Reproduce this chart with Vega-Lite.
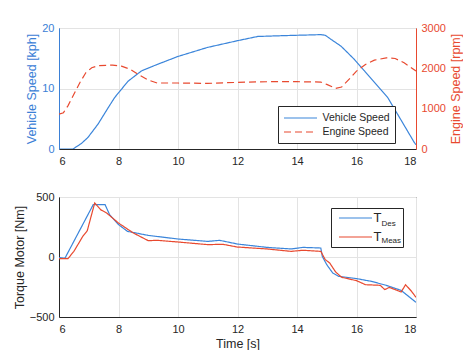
{
  "$schema": "https://vega.github.io/schema/vega-lite/v6.json",
  "padding": {"left": 12, "top": 21, "right": 0, "bottom": 0},
  "background": "white",
  "spacing": 48,
  "bounds": "flush",
  "resolve": {"scale": {"color": "independent", "strokeDash": "independent"}, "legend": {"color": "independent", "strokeDash": "independent"}},
  "config": {
    "font": "Liberation Sans",
    "view": {"stroke": "#262626", "strokeWidth": 1},
    "axis": {"labelFontSize": 11, "titleFontSize": 12.5, "titleFontWeight": "normal", "gridColor": "#e3e3e3", "labelColor": "#262626", "titleColor": "#262626", "domainColor": "#262626", "ticks": false, "labelPadding": 5, "titlePadding": 3},
    "axisX": {"labelPadding": 6, "titlePadding": 3},
    "legend": {"symbolType": "M-2.75,0H2.75", "symbolSize": 144, "symbolStrokeWidth": 1.2, "labelColor": "#262626"}
  },
  "vconcat": [
    {
      "width": 357,
      "height": 121,
      "layer": [
        {
          "data": {"values": [
            {"t": 6.0, "series": "Vehicle Speed", "v": 0},
            {"t": 6.47, "series": "Vehicle Speed", "v": 0},
            {"t": 6.75, "series": "Vehicle Speed", "v": 0.9},
            {"t": 6.97, "series": "Vehicle Speed", "v": 1.9},
            {"t": 7.31, "series": "Vehicle Speed", "v": 4.1},
            {"t": 7.65, "series": "Vehicle Speed", "v": 6.8},
            {"t": 7.87, "series": "Vehicle Speed", "v": 8.5},
            {"t": 8.32, "series": "Vehicle Speed", "v": 11.2},
            {"t": 8.77, "series": "Vehicle Speed", "v": 12.9},
            {"t": 9.21, "series": "Vehicle Speed", "v": 13.8},
            {"t": 10.0, "series": "Vehicle Speed", "v": 15.3},
            {"t": 11.0, "series": "Vehicle Speed", "v": 16.8},
            {"t": 12.0, "series": "Vehicle Speed", "v": 17.9},
            {"t": 12.68, "series": "Vehicle Speed", "v": 18.6},
            {"t": 13.3, "series": "Vehicle Speed", "v": 18.7},
            {"t": 14.0, "series": "Vehicle Speed", "v": 18.8},
            {"t": 14.8, "series": "Vehicle Speed", "v": 18.9},
            {"t": 14.95, "series": "Vehicle Speed", "v": 18.8},
            {"t": 15.15, "series": "Vehicle Speed", "v": 18.1},
            {"t": 15.48, "series": "Vehicle Speed", "v": 17.0},
            {"t": 15.93, "series": "Vehicle Speed", "v": 14.8},
            {"t": 16.27, "series": "Vehicle Speed", "v": 12.9},
            {"t": 17.05, "series": "Vehicle Speed", "v": 8.5},
            {"t": 17.94, "series": "Vehicle Speed", "v": 1.1},
            {"t": 18.0, "series": "Vehicle Speed", "v": 0.7}
          ]},
          "mark": {"type": "line", "strokeWidth": 1.2, "clip": true},
          "encoding": {
            "x": {"field": "t", "type": "quantitative", "scale": {"domain": [6, 18], "nice": false}, "axis": {"values": [6, 8, 10, 12, 14, 16, 18], "title": null, "grid": true}},
            "y": {"field": "v", "type": "quantitative", "scale": {"domain": [0, 20], "nice": false}, "axis": {"values": [0, 10, 20], "title": "Vehicle Speed [kph]", "labelColor": "#3b80d6", "titleColor": "#3b80d6", "domainColor": "#3b80d6", "grid": true}},
            "color": {"field": "series", "type": "nominal", "scale": {"domain": ["Vehicle Speed", "Engine Speed"], "range": ["#3b85da", "#e8492f"]}, "legend": {"title": null, "orient": "none", "legendX": 219, "legendY": 78, "strokeColor": "#262626", "fillColor": "white", "padding": 5, "symbolOffset": 10.5, "labelOffset": 15, "labelFontSize": 10.5, "rowPadding": 1, "cornerRadius": 0}},
            "strokeDash": {"field": "series", "type": "nominal", "scale": {"domain": ["Vehicle Speed", "Engine Speed"], "range": [[1, 0], [7, 4]]}, "legend": {"title": null, "orient": "none", "legendX": 219, "legendY": 78}}
          }
        },
        {
          "data": {"values": [
            {"t": 6.0, "series": "Engine Speed", "rpm": 863},
            {"t": 6.15, "series": "Engine Speed", "rpm": 900},
            {"t": 6.3, "series": "Engine Speed", "rpm": 1070},
            {"t": 6.5, "series": "Engine Speed", "rpm": 1356},
            {"t": 6.7, "series": "Engine Speed", "rpm": 1644},
            {"t": 6.9, "series": "Engine Speed", "rpm": 1890},
            {"t": 7.1, "series": "Engine Speed", "rpm": 2014},
            {"t": 7.3, "series": "Engine Speed", "rpm": 2063},
            {"t": 7.8, "series": "Engine Speed", "rpm": 2080},
            {"t": 8.1, "series": "Engine Speed", "rpm": 2055},
            {"t": 8.4, "series": "Engine Speed", "rpm": 1973},
            {"t": 8.7, "series": "Engine Speed", "rpm": 1833},
            {"t": 9.0, "series": "Engine Speed", "rpm": 1710},
            {"t": 9.3, "series": "Engine Speed", "rpm": 1636},
            {"t": 10.0, "series": "Engine Speed", "rpm": 1636},
            {"t": 11.0, "series": "Engine Speed", "rpm": 1627},
            {"t": 12.0, "series": "Engine Speed", "rpm": 1652},
            {"t": 13.0, "series": "Engine Speed", "rpm": 1668},
            {"t": 14.0, "series": "Engine Speed", "rpm": 1668},
            {"t": 14.8, "series": "Engine Speed", "rpm": 1660},
            {"t": 15.0, "series": "Engine Speed", "rpm": 1603},
            {"t": 15.3, "series": "Engine Speed", "rpm": 1504},
            {"t": 15.5, "series": "Engine Speed", "rpm": 1537},
            {"t": 15.8, "series": "Engine Speed", "rpm": 1767},
            {"t": 16.0, "series": "Engine Speed", "rpm": 1932},
            {"t": 16.3, "series": "Engine Speed", "rpm": 2096},
            {"t": 16.6, "series": "Engine Speed", "rpm": 2203},
            {"t": 17.0, "series": "Engine Speed", "rpm": 2260},
            {"t": 17.3, "series": "Engine Speed", "rpm": 2244},
            {"t": 17.6, "series": "Engine Speed", "rpm": 2137},
            {"t": 17.8, "series": "Engine Speed", "rpm": 2038},
            {"t": 18.0, "series": "Engine Speed", "rpm": 1932}
          ]},
          "mark": {"type": "line", "strokeWidth": 1.2, "clip": true},
          "encoding": {
            "x": {"field": "t", "type": "quantitative"},
            "y": {"field": "rpm", "type": "quantitative", "scale": {"domain": [0, 3000], "nice": false}, "axis": {"orient": "right", "values": [0, 1000, 2000, 3000], "format": "d", "title": "Engine Speed [rpm]", "titleAngle": 270, "titleBaseline": "top", "titlePadding": 4, "labelColor": "#e8492f", "titleColor": "#e8492f", "domainColor": "#e8492f", "grid": false}},
            "color": {"field": "series", "type": "nominal"},
            "strokeDash": {"field": "series", "type": "nominal"}
          }
        }
      ],
      "resolve": {"scale": {"y": "independent"}}
    },
    {
      "width": 357,
      "height": 120,
      "data": {"values": [
        {"t": 6.0, "series": "T_Des", "sub": "Des", "tq": -5},
        {"t": 6.2, "series": "T_Des", "sub": "Des", "tq": -10},
        {"t": 7.15, "series": "T_Des", "sub": "Des", "tq": 436},
        {"t": 7.55, "series": "T_Des", "sub": "Des", "tq": 436},
        {"t": 7.7, "series": "T_Des", "sub": "Des", "tq": 353},
        {"t": 8.0, "series": "T_Des", "sub": "Des", "tq": 270},
        {"t": 8.3, "series": "T_Des", "sub": "Des", "tq": 214},
        {"t": 9.0, "series": "T_Des", "sub": "Des", "tq": 180},
        {"t": 10.0, "series": "T_Des", "sub": "Des", "tq": 150},
        {"t": 11.0, "series": "T_Des", "sub": "Des", "tq": 130},
        {"t": 11.4, "series": "T_Des", "sub": "Des", "tq": 139},
        {"t": 12.0, "series": "T_Des", "sub": "Des", "tq": 108},
        {"t": 13.0, "series": "T_Des", "sub": "Des", "tq": 80},
        {"t": 13.8, "series": "T_Des", "sub": "Des", "tq": 67},
        {"t": 14.2, "series": "T_Des", "sub": "Des", "tq": 80},
        {"t": 14.8, "series": "T_Des", "sub": "Des", "tq": 75},
        {"t": 14.85, "series": "T_Des", "sub": "Des", "tq": 5},
        {"t": 15.0, "series": "T_Des", "sub": "Des", "tq": -64},
        {"t": 15.2, "series": "T_Des", "sub": "Des", "tq": -133},
        {"t": 15.4, "series": "T_Des", "sub": "Des", "tq": -161},
        {"t": 16.0, "series": "T_Des", "sub": "Des", "tq": -180},
        {"t": 16.5, "series": "T_Des", "sub": "Des", "tq": -203},
        {"t": 17.0, "series": "T_Des", "sub": "Des", "tq": -236},
        {"t": 17.5, "series": "T_Des", "sub": "Des", "tq": -278},
        {"t": 18.0, "series": "T_Des", "sub": "Des", "tq": -378},
        {"t": 6.0, "series": "T_Meas", "sub": "Meas", "tq": -14},
        {"t": 6.3, "series": "T_Meas", "sub": "Meas", "tq": -14},
        {"t": 6.5, "series": "T_Meas", "sub": "Meas", "tq": 47},
        {"t": 6.8, "series": "T_Meas", "sub": "Meas", "tq": 172},
        {"t": 6.95, "series": "T_Meas", "sub": "Meas", "tq": 219},
        {"t": 7.2, "series": "T_Meas", "sub": "Meas", "tq": 450},
        {"t": 7.4, "series": "T_Meas", "sub": "Meas", "tq": 394},
        {"t": 7.6, "series": "T_Meas", "sub": "Meas", "tq": 367},
        {"t": 8.0, "series": "T_Meas", "sub": "Meas", "tq": 283},
        {"t": 8.5, "series": "T_Meas", "sub": "Meas", "tq": 200},
        {"t": 9.0, "series": "T_Meas", "sub": "Meas", "tq": 136},
        {"t": 9.3, "series": "T_Meas", "sub": "Meas", "tq": 139},
        {"t": 10.0, "series": "T_Meas", "sub": "Meas", "tq": 125},
        {"t": 11.0, "series": "T_Meas", "sub": "Meas", "tq": 103},
        {"t": 11.5, "series": "T_Meas", "sub": "Meas", "tq": 106},
        {"t": 12.0, "series": "T_Meas", "sub": "Meas", "tq": 83},
        {"t": 13.0, "series": "T_Meas", "sub": "Meas", "tq": 67},
        {"t": 13.8, "series": "T_Meas", "sub": "Meas", "tq": 47},
        {"t": 14.2, "series": "T_Meas", "sub": "Meas", "tq": 56},
        {"t": 14.8, "series": "T_Meas", "sub": "Meas", "tq": 47},
        {"t": 14.95, "series": "T_Meas", "sub": "Meas", "tq": -22},
        {"t": 15.1, "series": "T_Meas", "sub": "Meas", "tq": -50},
        {"t": 15.3, "series": "T_Meas", "sub": "Meas", "tq": -125},
        {"t": 15.5, "series": "T_Meas", "sub": "Meas", "tq": -169},
        {"t": 16.0, "series": "T_Meas", "sub": "Meas", "tq": -197},
        {"t": 16.3, "series": "T_Meas", "sub": "Meas", "tq": -231},
        {"t": 16.8, "series": "T_Meas", "sub": "Meas", "tq": -236},
        {"t": 16.95, "series": "T_Meas", "sub": "Meas", "tq": -272},
        {"t": 17.1, "series": "T_Meas", "sub": "Meas", "tq": -253},
        {"t": 17.3, "series": "T_Meas", "sub": "Meas", "tq": -272},
        {"t": 17.5, "series": "T_Meas", "sub": "Meas", "tq": -292},
        {"t": 17.65, "series": "T_Meas", "sub": "Meas", "tq": -231},
        {"t": 17.85, "series": "T_Meas", "sub": "Meas", "tq": -286},
        {"t": 18.0, "series": "T_Meas", "sub": "Meas", "tq": -336}
      ]},
      "mark": {"type": "line", "strokeWidth": 1.2, "clip": true},
      "encoding": {
        "x": {"field": "t", "type": "quantitative", "scale": {"domain": [6, 18], "nice": false}, "axis": {"values": [6, 8, 10, 12, 14, 16, 18], "title": "Time [s]", "grid": true}},
        "y": {"field": "tq", "type": "quantitative", "scale": {"domain": [-500, 500], "nice": false}, "axis": {"values": [-500, 0, 500], "title": "Torque Motor [Nm]", "grid": true}},
        "color": {"field": "series", "type": "nominal", "scale": {"domain": ["T_Des", "T_Meas"], "range": ["#3b85da", "#e8492f"]}, "legend": {"title": "\u00a0", "titleOrient": "right", "titlePadding": 19, "titleFontSize": 6, "orient": "none", "legendX": 272, "legendY": 11, "strokeColor": "#262626", "fillColor": "white", "padding": 3, "symbolOffset": 14.5, "labelOffset": 11, "labelExpr": "'T'", "labelFontSize": 13, "rowPadding": 5, "zindex": 1}},
        "strokeDash": {"field": "sub", "type": "nominal", "scale": {"domain": ["Des", "Meas"], "range": [[1, 0], [1, 0]]}, "legend": {"title": null, "orient": "none", "legendX": 272, "legendY": 17, "padding": 3, "symbolOpacity": 0, "symbolOffset": 14.5, "labelOffset": 19, "labelFontSize": 8, "rowPadding": 6, "zindex": 2}}
      }
    }
  ]
}
